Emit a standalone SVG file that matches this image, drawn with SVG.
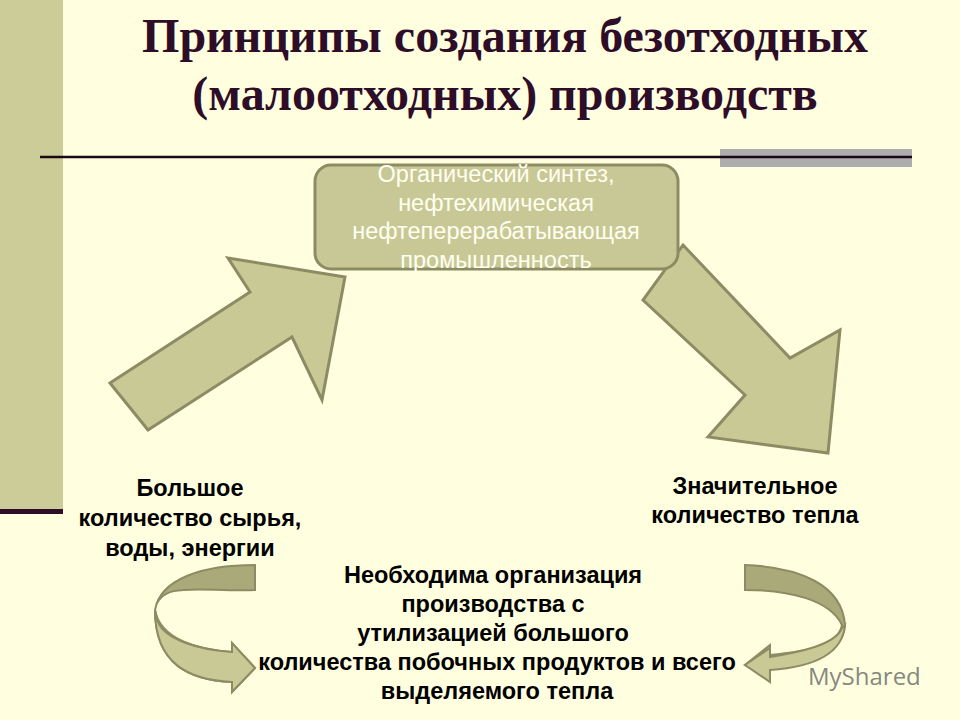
<svg xmlns="http://www.w3.org/2000/svg" width="960" height="720" viewBox="0 0 960 720">
<defs><style>
.ar{fill:#C9C995;stroke:#8C8C64;stroke-width:3;stroke-linejoin:miter}
.lb{font-family:"Liberation Sans",Arial,sans-serif;font-weight:bold;font-size:23.5px;fill:#000;text-anchor:middle}
.bx{font-family:"Liberation Sans",Arial,sans-serif;font-size:23.5px;fill:#FFFFF0;text-anchor:middle}
</style></defs>
<rect width="960" height="720" fill="#FFFFE0"/>
<rect x="0" y="0" width="63" height="512" fill="#CCCC99"/>
<rect x="0" y="509" width="63" height="5" fill="#2E0D28"/>
<rect x="720" y="149" width="192" height="18" fill="#ADADAD"/>
<line x1="40" y1="157" x2="912" y2="157" stroke="#1A0814" stroke-width="2.5"/>
<text x="505" y="52" font-family="Liberation Serif,serif" font-weight="bold" font-size="48" fill="#2E0D28" text-anchor="middle">Принципы создания безотходных</text>
<text x="505" y="110" font-family="Liberation Serif,serif" font-weight="bold" font-size="48" fill="#2E0D28" text-anchor="middle">(малоотходных) производств</text>
<g id="connectors">
<polygon class="ar" points="110,383 250,292 228,258 345,277 322,400 292,337 148,430"/>
<polygon class="ar" points="683,245 790,358 840,330 828,453 708,437 745,395 643,300"/>
<path d="M255,565 C200,565 160,580 155,610 C160,640 200,650 232,652 L232,643 L255,668 L232,692 L232,682 C190,680 155,665 155,610 C160,580 200,592 255,590 Z" fill="#A9A97A" stroke="#8C8C64" stroke-width="2"/>
<path d="M155,610 C155,665 190,680 232,682 L232,692 L255,668 L232,643 L232,652 C200,650 165,640 158,622 Z" fill="#C9C995" stroke="#8C8C64" stroke-width="2"/>
<path d="M745,565 C800,567 842,585 845,625 C842,660 800,665 770,668 L770,680 L745,665 L770,645 L770,655 C800,652 838,648 842,625 C830,600 790,590 745,590 Z" fill="#A9A97A" stroke="#8C8C64" stroke-width="2"/>
<path d="M845,625 C842,660 800,668 770,670 L770,682 L745,665 L770,648 L770,657 C800,652 835,645 842,628 Z" fill="#C9C995" stroke="#8C8C64" stroke-width="2"/>
</g>
<g id="box">
<rect x="315" y="165" width="363" height="104" rx="16" fill="#C8C896" stroke="#8C8C64" stroke-width="3"/>
<text class="bx" x="496" y="182">Органический синтез,</text>
<text class="bx" x="496" y="211">нефтехимическая</text>
<text class="bx" x="496" y="239">нефтеперерабатывающая</text>
<text class="bx" x="496" y="268">промышленность</text>
</g>
<g id="left">
<text class="lb" x="190" y="496">Большое</text>
<text class="lb" x="190" y="526">количество сырья,</text>
<text class="lb" x="190" y="556">воды, энергии</text>
</g>
<g id="right">
<text class="lb" x="755" y="494">Значительное</text>
<text class="lb" x="755" y="523">количество тепла</text>
</g>
<g id="bottom">
<text class="lb" x="493" y="583">Необходима организация</text>
<text class="lb" x="493" y="612">производства с</text>
<text class="lb" x="493" y="641">утилизацией большого</text>
<text class="lb" x="497" y="670">количества побочных продуктов и всего</text>
<text class="lb" x="497" y="699">выделяемого тепла</text>
</g>
<text x="808" y="685" font-family="Open Sans,sans-serif" font-size="24" fill="#555" opacity="0.7">MyShared</text>
</svg>
